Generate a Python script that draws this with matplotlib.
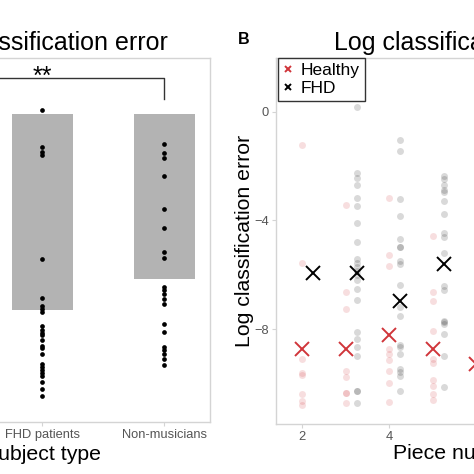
import numpy as np
import matplotlib.pyplot as plt

plt.rcParams["font.family"] = ["Liberation Sans", "DejaVu Sans"]

# panel A: per-subject log classification error
groups = ["FHD patients", "Non-musicians"]
group_pos = [1, 2]
group_means = [-7.19, -6.06]
fhd_subjects = [0.15, -1.21, -1.41, -1.50, -5.33, -6.75, -7.06, -7.14, -7.26,
                -7.79, -7.92, -8.03, -8.12, -8.28, -8.51, -8.59, -8.80, -9.16,
                -9.28, -9.41, -9.49, -9.63, -9.83, -10.08, -10.36]
nonmus_subjects = [-1.10, -1.44, -1.60, -2.28, -3.50, -4.17, -5.06, -5.30,
                   -6.35, -6.47, -6.62, -6.78, -6.96, -7.72, -8.00, -8.55,
                   -8.67, -8.80, -9.00, -9.20]

# panel B: per-piece log classification error
pieces = [2, 3, 4, 5, 6]
healthy_mean = [-8.73, -8.73, -8.22, -8.73, -9.30]
fhd_pieces = [2, 3, 4, 5]
fhd_mean = [-5.94, -5.94, -6.97, -5.60]

healthy_p2 = [-1.24, -5.58, -9.08, -9.63, -9.69, -10.37, -10.63, -10.78]
healthy_p3 = [-3.44, -6.62, -7.27, -9.53, -9.77, -10.36, -10.36, -10.72]
healthy_p4 = [-3.18, -5.28, -5.68, -8.73, -8.92, -9.12, -9.53, -9.98, -10.69]
healthy_p5 = [-4.57, -6.65, -6.98, -8.06, -9.08, -9.26, -9.86, -10.08,
              -10.39, -10.61]
fhd_p3 = [0.17, -2.25, -2.43, -2.70, -3.17, -3.45, -4.09, -4.78, -5.40,
          -5.55, -5.70, -5.85, -6.00, -6.20, -6.51, -6.91, -8.12, -8.38,
          -8.66, -9.00, -10.26, -10.26, -10.72]
fhd_p4 = [-1.05, -1.43, -3.20, -3.83, -4.67, -4.99, -4.99, -5.49, -5.60,
          -6.37, -7.18, -7.53, -8.57, -8.65, -8.92, -9.47, -9.59, -9.72,
          -10.29]
fhd_p5 = [-2.35, -2.46, -2.70, -2.86, -2.95, -3.27, -3.75, -4.45, -4.59,
          -5.21, -6.42, -6.56, -7.70, -7.74, -7.82, -8.18, -9.00, -10.14]

healthy_pts = [healthy_p2, healthy_p3, healthy_p4, healthy_p5]
fhd_pts = [fhd_p3, fhd_p4, fhd_p5]
fhd_pts_x = [3, 4, 5]

red = "#d0353a"
border = "#d4d4d4"
ticktxt = "#555555"
W = 474.0

fig = plt.figure(figsize=(4.74, 4.74), dpi=100)

# ---- panel A (mostly cropped on the left)
axA = fig.add_axes([-125 / W, 52 / W, 335 / W, 364 / W])
axA.bar(group_pos, group_means, width=0.5, color="#b3b3b3", zorder=1)
for p, vals in zip(group_pos, [fhd_subjects, nonmus_subjects]):
    axA.plot(np.full(len(vals), p), vals, "o", color="black", ms=3.4,
             mew=0, zorder=3)
axA.plot([0, 2, 2], [1.31, 1.31, 0.55], color="#333333", lw=1)
axA.text(1, 1.10, "**", ha="center", va="baseline", fontsize=18)
axA.set_xlim(-0.37, 2.377)
axA.set_ylim(-11.30, 2.055)
axA.set_xticks(group_pos)
axA.set_xticklabels(groups)
axA.set_yticks([])
axA.set_xlabel("Subject type", fontsize=15.3, labelpad=3)
axA.set_title("Log classification error", fontsize=18, pad=5.5)

# ---- panel B (cropped on the right)
axB = fig.add_axes([276 / W, 50 / W, 366 / W, 366 / W])
for p, vals in zip(pieces, healthy_pts):
    axB.plot(np.full(len(vals), p), vals, "o", color=red, alpha=0.16,
             ms=5, mew=0)
for p, vals in zip(fhd_pts_x, fhd_pts):
    axB.plot(np.full(len(vals), p + 0.25), vals, "o", color="black",
             alpha=0.15, ms=5, mew=0)
axB.plot(pieces, healthy_mean, "x", color=red, ms=10, mew=1.4,
         ls="none", label="Healthy")
axB.plot(np.array(fhd_pieces) + 0.25, fhd_mean, "x", color="black", ms=10,
         mew=1.4, ls="none", label="FHD")
axB.set_xlim(1.40, 9.8)
axB.set_ylim(-11.49, 1.98)
axB.set_xticks([2, 4])
axB.set_yticks([0, -4, -8])
axB.set_xlabel("Piece number", fontsize=15.3, labelpad=0.5)
axB.set_ylabel("Log classification error", fontsize=15.3, labelpad=0)
axB.set_title("Log classification error", fontsize=18, pad=5.5)
leg = axB.legend(loc="upper left", bbox_to_anchor=(0.005, 1.0),
                 fontsize=12.5, markerscale=0.5, handlelength=0.6,
                 handletextpad=0.4, borderpad=0.3, labelspacing=0.15,
                 fancybox=False, framealpha=1, borderaxespad=0)
leg.get_frame().set_edgecolor("#333333")
leg.get_frame().set_linewidth(1)

for ax in (axA, axB):
    for s in ax.spines.values():
        s.set_color(border)
        s.set_linewidth(1)
    ax.tick_params(colors=border, labelcolor=ticktxt, labelsize=9.3,
                   length=3, width=0.8, pad=2)

fig.text(238 / W, 1 - 40 / W, "B", fontsize=11.5, fontweight="bold",
         va="center", ha="left")

fig.savefig("out.png", dpi=100)
